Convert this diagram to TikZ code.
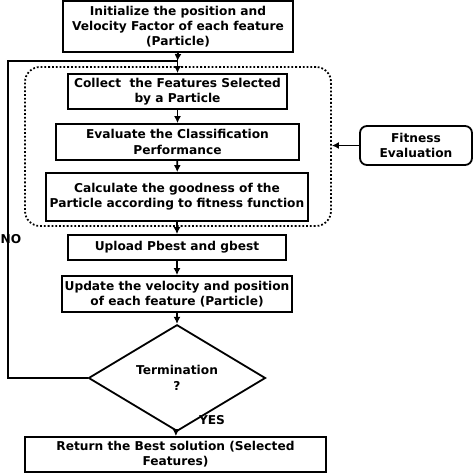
\documentclass[tikz,border=0pt]{standalone}
\usepackage{fontspec}
\setmainfont{DejaVu Sans}
\usetikzlibrary{shapes.geometric,arrows.meta}
\begin{document}
\begin{tikzpicture}[x=1pt,y=-1pt,
  every node/.style={font=\bfseries\fontsize{12.2}{15.3}\selectfont, align=center, inner sep=0pt},
  box/.style={draw, line width=1.8pt, rectangle},
  arr/.style={line width=1.8pt, -{Latex[length=7pt,width=7pt]}},
  ln/.style={line width=1.8pt}]
\useasboundingbox (0,0) rectangle (474,474);
\node[box, minimum width=230, minimum height=51] (init) at (178,26.5) {Initialize the position and\\Velocity Factor of each feature\\(Particle)};
\node[draw, dotted, line width=1.8pt, rounded corners=15pt, minimum width=306, minimum height=159] (grp) at (178,146.5) {};
\node[box, minimum width=219, minimum height=35] (collect) at (177.5,91.5) {Collect\ \ the Features Selected\\by a Particle};
\node[box, minimum width=243, minimum height=36] (eval) at (177.5,142) {Evaluate the Classification\\Performance};
\node[box, minimum width=262, minimum height=48] (calc) at (177,197) {Calculate the goodness of the\\Particle according to fitness function};
\node[box, minimum width=218, minimum height=25] (upload) at (177,247.5) {Upload Pbest and gbest};
\node[box, minimum width=230, minimum height=36] (update) at (177,294) {Update the velocity and position\\of each feature (Particle)};
\node[draw, line width=1.8pt, diamond, minimum width=177, minimum height=87] (term) at (177,378) {Termination\\?};
\node[box, minimum width=301, minimum height=35] (ret) at (175.5,454.5) {Return the Best solution (Selected\\Features)};
\node[draw, line width=1.8pt, rounded corners=7pt, minimum width=112, minimum height=39] (fit) at (416,145.5) {Fitness\\Evaluation};
\coordinate (j) at (177.5,61);
\coordinate (lc) at (8,378);
\node (no) at (11,239) {NO};
\node (yes) at (212,420) {YES};
\draw[arr] (init.south) -- (j);
\draw[arr] (j) -- (collect.north);
\draw[ln] (term.west) -- (lc) |- (j);
\draw[arr] (collect) -- (eval);
\draw[arr] (eval) -- (calc);
\draw[arr] (calc) -- (upload);
\draw[arr] (upload) -- (update);
\draw[arr] (update) -- (term);
\draw[arr] (term) -- (ret);
\draw[arr] (fit.west) -- (grp.east |- fit.west);
\end{tikzpicture}
\end{document}
